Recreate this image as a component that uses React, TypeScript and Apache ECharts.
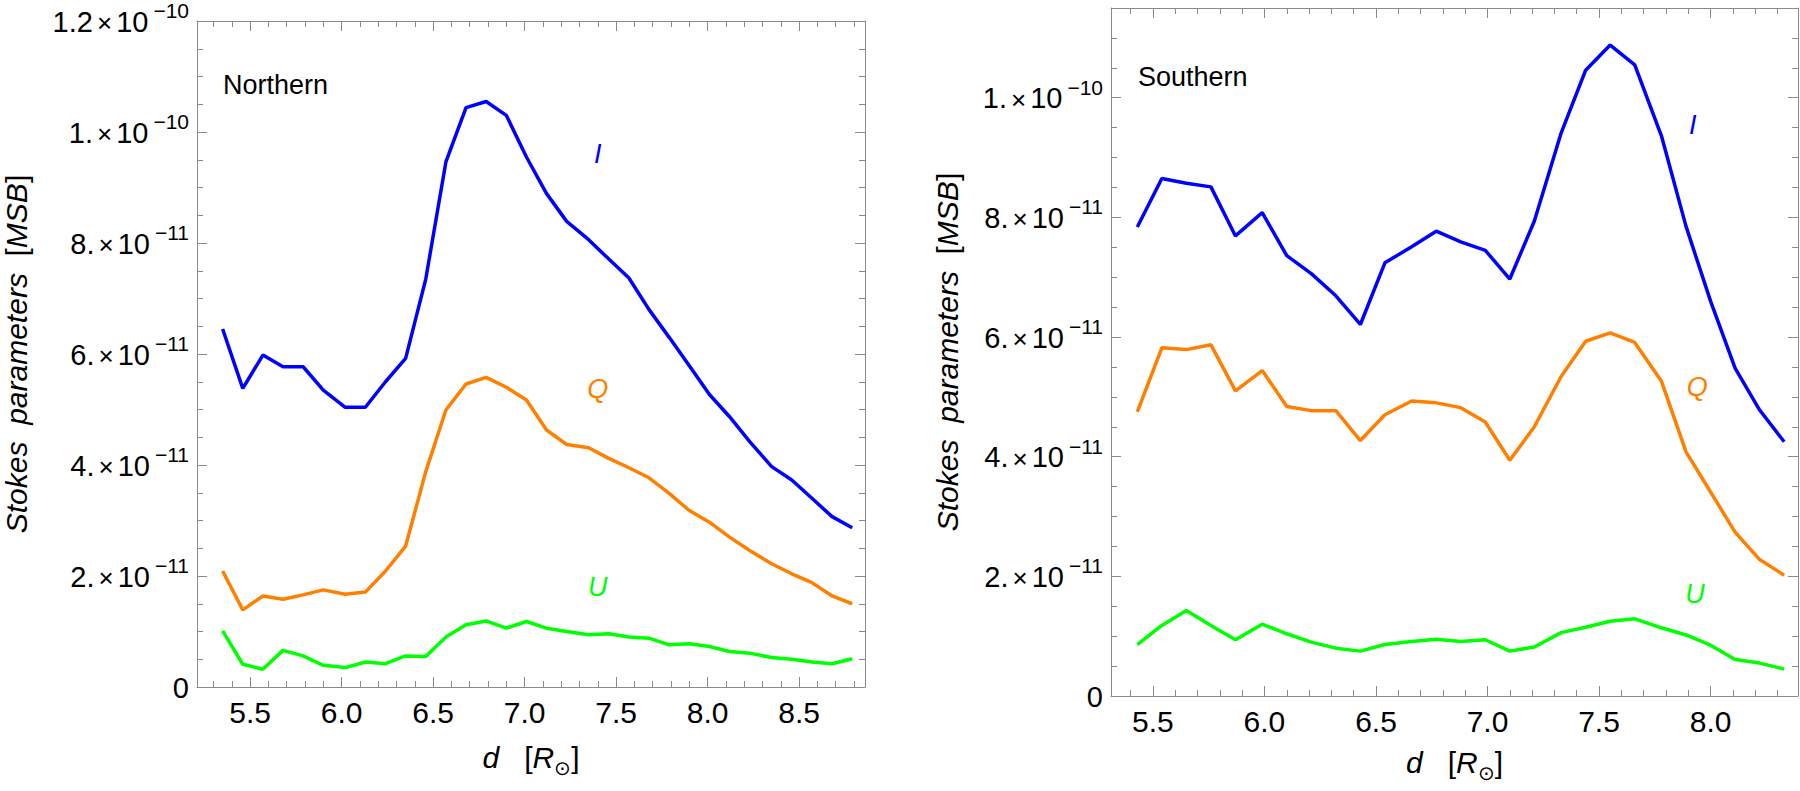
import React, { useEffect, useRef } from 'react';
import * as echarts from 'echarts';

// values of the Stokes parameters in units of 1e-11 MSB
const SCALE = 1e-11;

// ---- Northern panel ----
const northX = [5.35, 5.46, 5.57, 5.68, 5.79, 5.90, 6.02, 6.13, 6.24, 6.35, 6.46, 6.57, 6.68, 6.79, 6.90, 7.01, 7.12, 7.23, 7.35, 7.46, 7.57, 7.68, 7.79, 7.90, 8.01, 8.12, 8.23, 8.35, 8.46, 8.57, 8.68, 8.79];
const northI = [6.45, 5.38, 5.98, 5.77, 5.77, 5.35, 5.04, 5.04, 5.50, 5.92, 7.35, 9.46, 10.44, 10.55, 10.30, 9.55, 8.89, 8.39, 8.06, 7.71, 7.37, 6.80, 6.30, 5.79, 5.27, 4.87, 4.42, 3.97, 3.73, 3.40, 3.07, 2.87];
const northQ = [2.09, 1.39, 1.64, 1.58, 1.66, 1.75, 1.67, 1.71, 2.09, 2.54, 3.88, 4.99, 5.46, 5.58, 5.40, 5.17, 4.63, 4.37, 4.31, 4.12, 3.95, 3.77, 3.49, 3.18, 2.97, 2.70, 2.46, 2.22, 2.04, 1.88, 1.64, 1.50];
const northU = [1.01, 0.41, 0.32, 0.66, 0.56, 0.39, 0.35, 0.45, 0.42, 0.56, 0.55, 0.90, 1.12, 1.19, 1.06, 1.18, 1.06, 1.00, 0.94, 0.96, 0.90, 0.88, 0.76, 0.78, 0.73, 0.64, 0.61, 0.53, 0.50, 0.45, 0.42, 0.51];

// ---- Southern panel ----
const southX = [5.43, 5.54, 5.65, 5.76, 5.87, 5.99, 6.10, 6.21, 6.32, 6.43, 6.54, 6.66, 6.77, 6.88, 6.99, 7.10, 7.21, 7.33, 7.44, 7.55, 7.66, 7.78, 7.89, 8.00, 8.11, 8.22, 8.33];
const southI = [7.84, 8.65, 8.57, 8.51, 7.69, 8.08, 7.36, 7.06, 6.69, 6.21, 7.24, 7.51, 7.77, 7.59, 7.45, 6.97, 7.94, 9.41, 10.46, 10.88, 10.55, 9.36, 7.85, 6.60, 5.48, 4.78, 4.25];
const southQ = [4.75, 5.82, 5.79, 5.87, 5.10, 5.44, 4.84, 4.77, 4.77, 4.27, 4.70, 4.93, 4.90, 4.82, 4.58, 3.94, 4.50, 5.34, 5.93, 6.07, 5.91, 5.26, 4.08, 3.41, 2.74, 2.28, 2.02];
const southU = [0.86, 1.18, 1.43, 1.18, 0.94, 1.20, 1.04, 0.90, 0.80, 0.75, 0.86, 0.91, 0.95, 0.91, 0.94, 0.75, 0.82, 1.06, 1.15, 1.25, 1.29, 1.14, 1.02, 0.85, 0.61, 0.55, 0.45];

// curve names and annotation positions (data coordinates, y in 1e-11)
const seriesNames = ['I', 'Q', 'U'];
const northLabelX = [7.40, 7.40, 7.40];
const northLabelY = [9.60, 5.37, 1.80];
const southLabelX = [7.92, 7.94, 7.93];
const southLabelY = [9.55, 5.17, 1.71];

// axis ranges
const northXRange = [5.21, 8.86];
const southXRange = [5.312, 8.392];
const northYMax = 12;
const southYMax = 11.5;

// ticks
const northXMajor = [5.5, 6.0, 6.5, 7.0, 7.5, 8.0, 8.5];
const northXMinor = [5.3, 5.4, 5.6, 5.7, 5.8, 5.9, 6.1, 6.2, 6.3, 6.4, 6.6, 6.7, 6.8, 6.9, 7.1, 7.2, 7.3, 7.4, 7.6, 7.7, 7.8, 7.9, 8.1, 8.2, 8.3, 8.4, 8.6, 8.7, 8.8];
const southXMajor = [5.5, 6.0, 6.5, 7.0, 7.5, 8.0];
const southXMinor = [5.4, 5.6, 5.7, 5.8, 5.9, 6.1, 6.2, 6.3, 6.4, 6.6, 6.7, 6.8, 6.9, 7.1, 7.2, 7.3, 7.4, 7.6, 7.7, 7.8, 7.9, 8.1, 8.2, 8.3];
const xTickLabels = ['5.5', '6.0', '6.5', '7.0', '7.5', '8.0', '8.5'];

const northYMajor = [0, 2, 4, 6, 8, 10, 12];
const southYMajor = [0, 2, 4, 6, 8, 10];
const northYMinor = [0.5, 1, 1.5, 2.5, 3, 3.5, 4.5, 5, 5.5, 6.5, 7, 7.5, 8.5, 9, 9.5, 10.5, 11, 11.5];
const southYMinor = [0.5, 1, 1.5, 2.5, 3, 3.5, 4.5, 5, 5.5, 6.5, 7, 7.5, 8.5, 9, 9.5, 10.5, 11];
const yTickMantissa = ['0', '2.', '4.', '6.', '8.', '1.', '1.2'];
const yTickExponent = ['', '−11', '−11', '−11', '−11', '−10', '−10'];

const panelTitles = ['Northern', 'Southern'];

const COLORS = ['#0000ff', '#ff8000', '#00ff00'];
const FONT = '"Liberation Sans", Arial, Helvetica, sans-serif';
const FRAME = '#8a8a8a';

function xLabel(v: number) {
  const k = northXMajor.findIndex((t) => Math.abs(t - v) < 1e-6);
  return k >= 0 ? xTickLabels[k] : '';
}

function yLabel(v: number) {
  const k = northYMajor.findIndex((t) => Math.abs(t * SCALE - v) < 1e-15);
  if (k < 0) return '';
  if (!yTickExponent[k]) return `{m|${yTickMantissa[k]}}`;
  return `{m|${yTickMantissa[k]}}{x|×}{m|10}{s|${yTickExponent[k]}}`;
}

const yRich = {
  m: { fontSize: 29, lineHeight: 30, fontFamily: FONT, color: '#000', verticalAlign: 'bottom' },
  x: { fontSize: 26, lineHeight: 30, fontFamily: FONT, color: '#000', padding: [0, 4, 0, 4], verticalAlign: 'bottom' },
  s: { fontSize: 21, lineHeight: 21, fontFamily: FONT, color: '#000', padding: [0, 0, 15, 5], verticalAlign: 'bottom' },
};

const nameRich = {
  i: { fontSize: 30, lineHeight: 30, fontFamily: FONT, fontStyle: 'italic', color: '#000', padding: [0, 0, 6, 0], verticalAlign: 'bottom' },
  t: { fontSize: 30, lineHeight: 30, fontFamily: FONT, color: '#000', padding: [0, 0, 6, 0], verticalAlign: 'bottom' },
  sub: { fontSize: 20, lineHeight: 20, fontFamily: FONT, color: '#000', verticalAlign: 'bottom' },
};

const yNameRich = {
  i: { fontSize: 30, lineHeight: 30, fontFamily: FONT, fontStyle: 'italic', color: '#000' },
  t: { fontSize: 30, lineHeight: 30, fontFamily: FONT, color: '#000' },
};

function buildXAxes(grid: number, range: number[], major: number[], minor: number[], nameGap: number) {
  const base = {
    type: 'value', gridIndex: grid, min: range[0], max: range[1],
    splitLine: { show: false }, minorTick: { show: false },
  };
  const line = { show: true, onZero: false, lineStyle: { color: FRAME, width: 1 } };
  const noLine = { show: false, onZero: false };
  const majorTick = { show: true, inside: true, length: 10, customValues: major, lineStyle: { color: FRAME, width: 1 } };
  const minorTk = { show: true, inside: true, length: 6, customValues: minor, lineStyle: { color: FRAME, width: 1 } };
  return [
    {
      ...base, position: 'bottom', axisLine: line, axisTick: majorTick,
      axisLabel: { show: true, customValues: major, margin: 10, color: '#000', fontSize: 30, lineHeight: 30, fontFamily: FONT, formatter: xLabel },
      name: '{i|d}{t|   [}{i|R}{sub|⊙}{t|]}', nameLocation: 'middle', nameGap,
      nameTextStyle: { rich: nameRich },
    },
    { ...base, position: 'bottom', axisLine: noLine, axisTick: minorTk, axisLabel: { show: false } },
    { ...base, position: 'top', axisLine: line, axisTick: majorTick, axisLabel: { show: false } },
    { ...base, position: 'top', axisLine: noLine, axisTick: minorTk, axisLabel: { show: false } },
  ];
}

function buildYAxes(grid: number, max: number, major: number[], minor: number[], nameGap: number) {
  const base = {
    type: 'value', gridIndex: grid, min: 0, max: max * SCALE,
    splitLine: { show: false }, minorTick: { show: false },
  };
  const line = { show: true, onZero: false, lineStyle: { color: FRAME, width: 1 } };
  const noLine = { show: false, onZero: false };
  const majorTick = { show: true, inside: true, length: 10, customValues: major.map((v) => v * SCALE), lineStyle: { color: FRAME, width: 1 } };
  const minorTk = { show: true, inside: true, length: 6, customValues: minor.map((v) => v * SCALE), lineStyle: { color: FRAME, width: 1 } };
  return [
    {
      ...base, position: 'left', axisLine: line, axisTick: majorTick,
      axisLabel: { show: true, customValues: major.map((v) => v * SCALE), margin: 8, formatter: yLabel, rich: yRich },
      name: '{i|Stokes  parameters}{t|  [}{i|MSB}{t|]}', nameLocation: 'middle', nameRotate: 90, nameGap,
      nameTextStyle: { rich: yNameRich },
    },
    { ...base, position: 'left', axisLine: noLine, axisTick: minorTk, axisLabel: { show: false } },
    { ...base, position: 'right', axisLine: line, axisTick: majorTick, axisLabel: { show: false } },
    { ...base, position: 'right', axisLine: noLine, axisTick: minorTk, axisLabel: { show: false } },
  ];
}

function buildSeries(axisIndex: number, xs: number[], ys: number[][], lx: number[], ly: number[]) {
  return ys.map((vals, k) => ({
    type: 'line',
    name: seriesNames[k],
    xAxisIndex: axisIndex,
    yAxisIndex: axisIndex,
    data: xs.map((x, i) => [x, vals[i] * SCALE]),
    showSymbol: false,
    symbol: 'none',
    lineStyle: { color: COLORS[k], width: 3.5 },
    itemStyle: { color: COLORS[k] },
    silent: true,
    markPoint: {
      silent: true,
      symbol: 'circle',
      symbolSize: 1,
      itemStyle: { color: 'rgba(0,0,0,0)' },
      label: {
        show: true, position: 'inside', formatter: seriesNames[k], color: COLORS[k],
        fontSize: 27, fontStyle: 'italic', fontFamily: FONT,
      },
      data: [{ coord: [lx[k], ly[k] * SCALE] }],
    },
  }));
}

export default function App() {
  const ref = useRef<HTMLDivElement>(null);
  useEffect(() => {
    if (!ref.current) return;
    const chart = echarts.init(ref.current, undefined, { renderer: 'svg' });
    const option = {
      animation: false,
      backgroundColor: '#ffffff',
      grid: [
        { left: 195, top: 17, width: 670, height: 670 },
        { left: 1111, top: 8, width: 687, height: 688 },
      ],
      xAxis: [
        ...buildXAxes(0, northXRange, northXMajor, northXMinor, 61),
        ...buildXAxes(1, southXRange, southXMajor, southXMinor, 57),
      ],
      yAxis: [
        ...buildYAxes(0, northYMax, northYMajor, northYMinor, 166),
        ...buildYAxes(1, southYMax, southYMajor, southYMinor, 149),
      ],
      graphic: [
        { type: 'text', x: 223, y: 85, style: { text: panelTitles[0], fontSize: 27, fontFamily: FONT, fill: '#000', align: 'left', verticalAlign: 'middle', textAlign: 'left', textVerticalAlign: 'middle' } },
        { type: 'text', x: 1138, y: 77, style: { text: panelTitles[1], fontSize: 27, fontFamily: FONT, fill: '#000', align: 'left', verticalAlign: 'middle', textAlign: 'left', textVerticalAlign: 'middle' } },
      ],
      series: [
        ...buildSeries(0, northX, [northI, northQ, northU], northLabelX, northLabelY),
        ...buildSeries(4, southX, [southI, southQ, southU], southLabelX, southLabelY),
      ],
    };
    chart.setOption(option as any);
    return () => chart.dispose();
  }, []);
  return (
    <div
      ref={ref}
      style={{ position: 'absolute', left: 0, top: 0, width: 1800, height: 791, background: '#fff' }}
    />
  );
}
